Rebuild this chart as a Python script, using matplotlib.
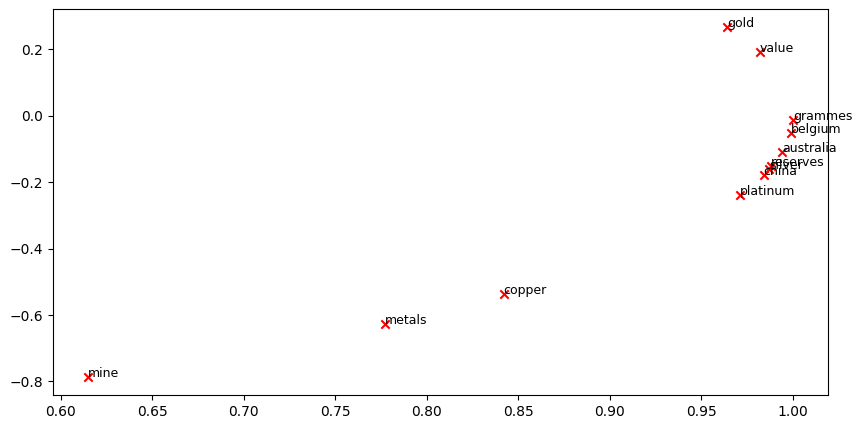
import matplotlib
matplotlib.use("Agg")
import matplotlib.pyplot as plt

# word embedding projection values
words = ['gold', 'value', 'grammes', 'belgium', 'australia', 'reserves',
         'silver', 'china', 'platinum', 'copper', 'metals', 'mine']
x_vals = [0.964, 0.982, 1.000, 0.999, 0.994, 0.988,
          0.987, 0.984, 0.971, 0.842, 0.777, 0.615]
y_vals = [0.269, 0.191, -0.013, -0.052, -0.108, -0.150,
          -0.160, -0.178, -0.238, -0.537, -0.628, -0.788]

fig = plt.figure(figsize=(8.62, 4.28), dpi=100)
ax = fig.add_axes([0.0615, 0.0771, 0.8991, 0.9019])

ax.scatter(x_vals, y_vals, marker='x', color='red')
for w, xv, yv in zip(words, x_vals, y_vals):
    ax.annotate(w, xy=(xv, yv), fontsize=9)

fig.savefig('out.png', dpi=100)
